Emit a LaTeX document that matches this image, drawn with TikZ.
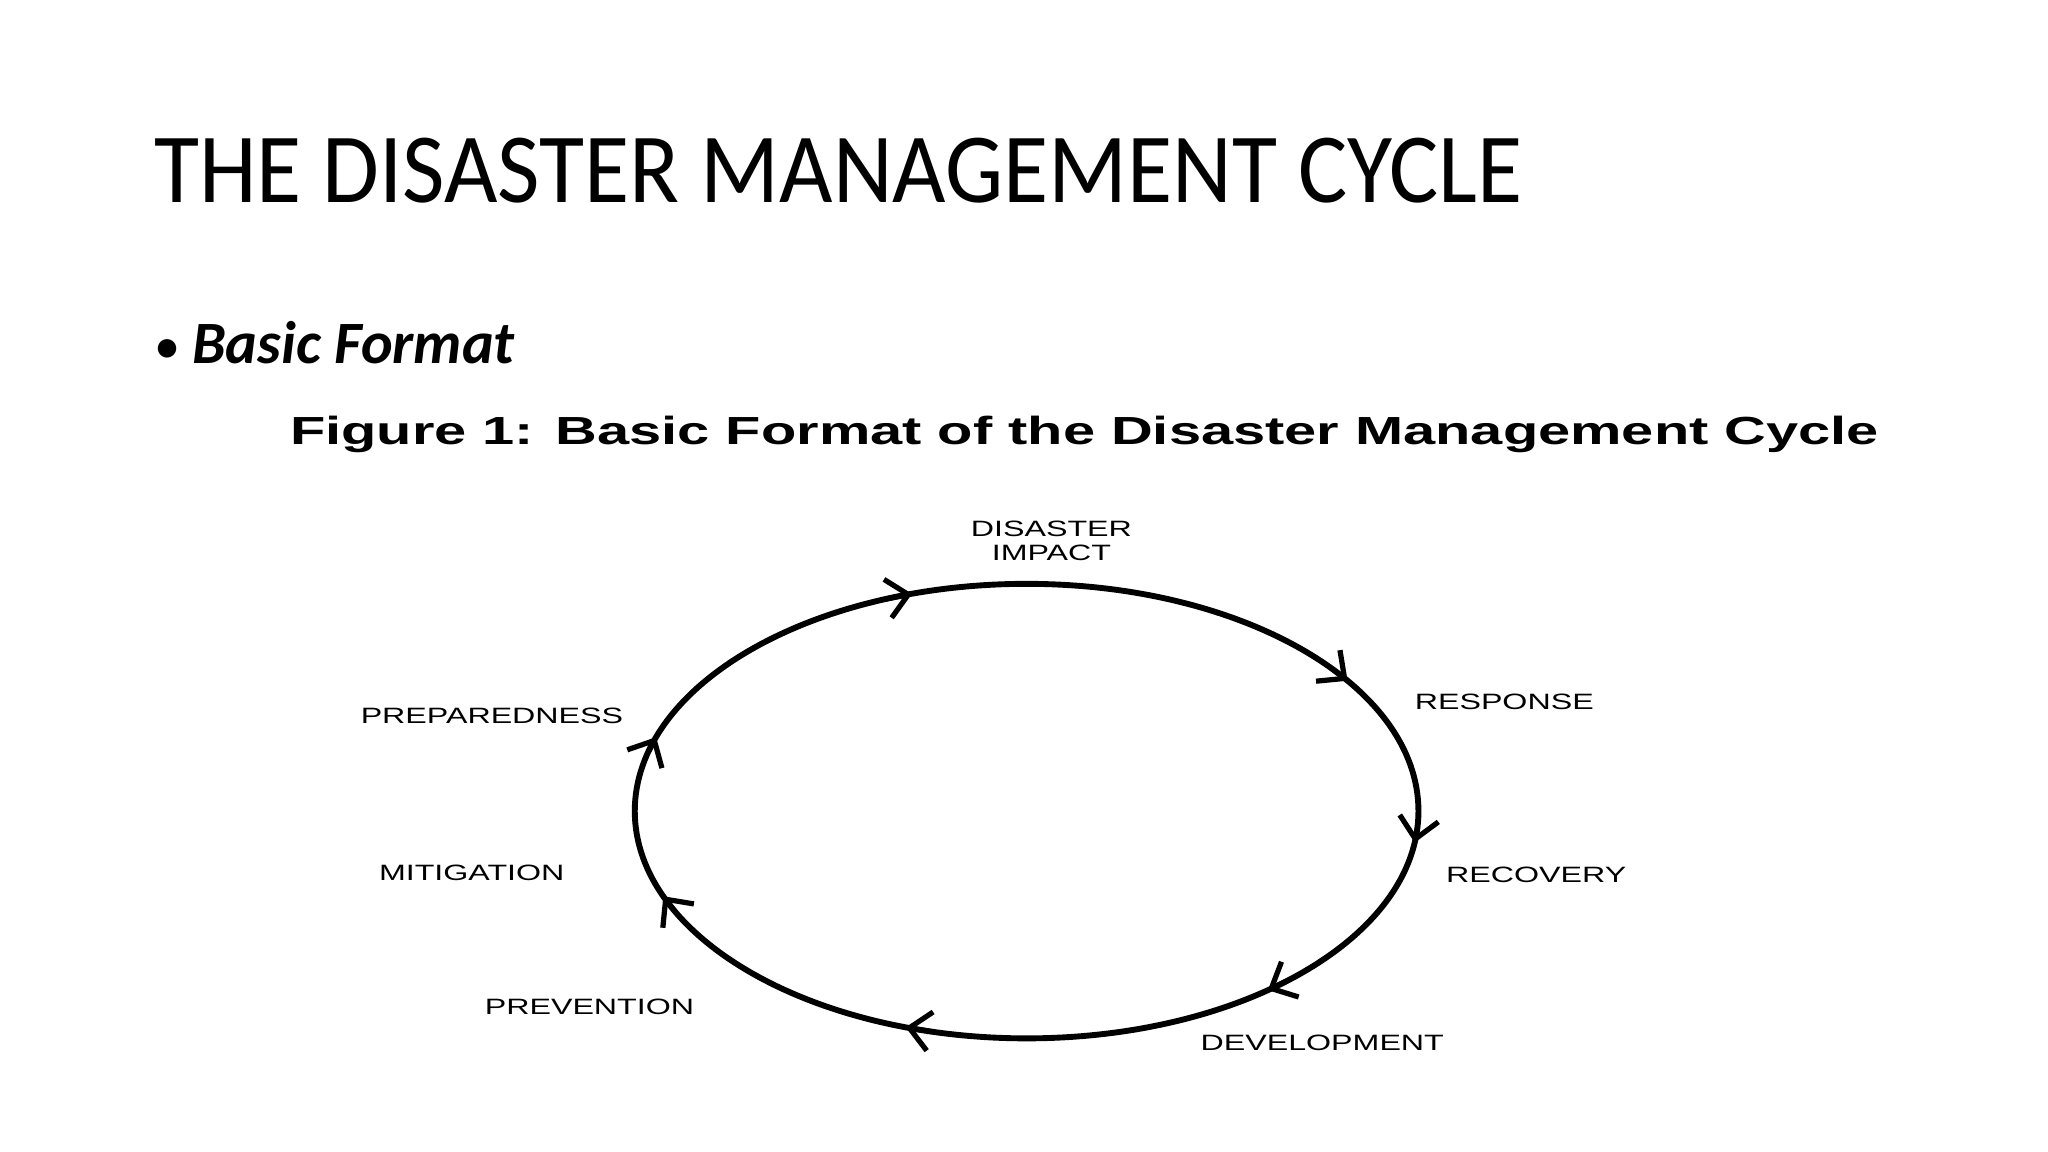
\documentclass[tikz,border=0pt]{standalone}
\usepackage{fontspec}
\usepackage{graphicx}
\setmainfont{Carlito}
\newfontfamily\lab{Liberation Sans}
\usetikzlibrary{arrows.meta}
\tikzset{
  lbl/.style={inner sep=0pt, font=\lab\fontsize{17}{18}\selectfont, align=center},
  cyc/.style={line width=4.5pt},
  tip/.style={line width=4pt, -{Straight Barb[length=16pt,width=30pt,line width=4pt]}}
}
\newcommand\wl[1]{\scalebox{1.45}[1]{#1}}
\begin{document}
\begin{tikzpicture}[x=1pt,y=-1pt]
\useasboundingbox[fill=white] (0,0) rectangle (1568,882);
\node[anchor=base west, inner sep=0pt, font=\fontsize{76}{80}\selectfont] (title) at (118,155) {\scalebox{0.93}[1]{THE DISASTER MANAGEMENT CYCLE}};
\node[anchor=base west, inner sep=0pt] (bullet) at (118,278) {\fontsize{40}{42}\selectfont •\ \fontsize{46}{48}\selectfont\bfseries\itshape Basic Format};
\node[anchor=base west, inner sep=0pt, font=\lab\bfseries\fontsize{30}{32}\selectfont] (cap) at (222,340) {\scalebox{1.475}[1]{Figure 1: Basic Format of the Disaster Management Cycle}};
\draw[cyc] (786,621) ellipse [x radius=300, y radius=174];
\foreach \t in {253,325,368,412,468,518,559}
  \draw[tip] ({786+300*cos(\t-4)},{621+174*sin(\t-4)}) -- ({786+300*cos(\t)},{621+174*sin(\t)});
\node[lbl] (impact) at (805,414) {\wl{DISASTER}\\\wl{IMPACT}};
\node[lbl, anchor=base west] (resp) at (1083,543) {\wl{RESPONSE}};
\node[lbl, anchor=base west] (rec) at (1107,676) {\wl{RECOVERY}};
\node[lbl, anchor=base west] (dev) at (919,804) {\wl{DEVELOPMENT}};
\node[lbl, anchor=base west] (prev) at (371,777) {\wl{PREVENTION}};
\node[lbl, anchor=base west] (mit) at (290,674) {\wl{MITIGATION}};
\node[lbl, anchor=base west] (prep) at (276,554) {\wl{PREPAREDNESS}};
\end{tikzpicture}
\end{document}
